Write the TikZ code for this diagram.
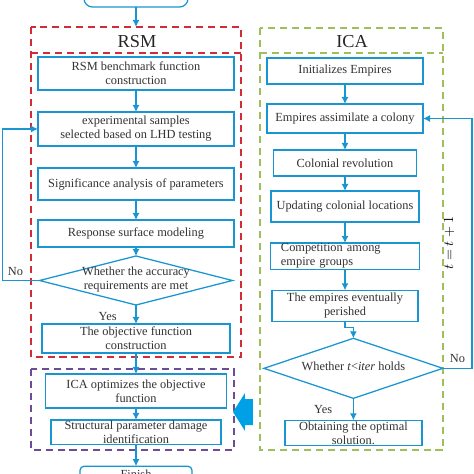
\documentclass[tikz,border=0pt]{standalone}
\usepackage{fontspec}
\setmainfont{Liberation Serif}
\usetikzlibrary{shapes.geometric, arrows.meta, positioning, calc}
\definecolor{flowBlue}{RGB}{25,150,210}
\definecolor{flowArrow}{RGB}{0,160,230}
\definecolor{rsmRed}{RGB}{210,45,55}
\definecolor{icaGreen}{RGB}{160,190,90}
\definecolor{optPurple}{RGB}{110,75,150}
\newcommand{\dtext}[1]{\raisebox{-2pt}[0pt][0pt]{\makebox[0pt]{\begin{tabular}{@{}c@{}}#1\end{tabular}}}}

\begin{document}
\begin{tikzpicture}[
    stage/.style={
        rectangle,
        draw=flowBlue,
        line width=0.9pt,
        fill=white,
        minimum width=#1,
        inner xsep=2pt,
        inner ysep=0.5pt,
        outer sep=0pt,
        align=center,
        font=\fontsize{8.8}{10}\selectfont,
        text=black!80
    },
    decide/.style={
        diamond,
        draw=flowBlue,
        line width=0.9pt,
        fill=white,
        aspect=4,
        inner sep=0pt,
        outer sep=0pt,
        minimum width=#1,
        font=\fontsize{8.8}{10}\selectfont,
        text=black!80
    },
    flow/.style={-{Latex[length=5pt,width=5pt]}, draw=flowBlue, line width=0.9pt},
    groupbox/.style={draw=#1, line width=1pt, dash pattern=on 5pt off 3.5pt},
    grouptitle/.style={font=\fontsize{13}{15}\selectfont, text=black!85},
    looptag/.style={font=\fontsize{8.8}{10}\selectfont, text=black!80}
]
    \useasboundingbox (0,0) rectangle (11.85,-11.85);

    % Group frames
    \draw[groupbox=rsmRed] (0.775,-0.675) rectangle (6.025,-8.925);
    \draw[groupbox=rsmRed] (0.775,-1.325) -- (6.025,-1.325);
    \node[grouptitle] (rsmtitle) at (3.425,-1.05) {RSM};
    \draw[groupbox=icaGreen] (6.5,-0.7) rectangle (11.075,-11.25);
    \draw[groupbox=icaGreen] (6.5,-1.325) -- (11.075,-1.325);
    \node[grouptitle] (icatitle) at (8.8,-1.05) {ICA};
    \draw[groupbox=optPurple] (0.775,-9.225) rectangle (5.85,-11.25);

    % Start
    \node[stage=2.6cm, rounded corners=6pt, minimum height=0.8cm, anchor=south] (start) at (3.4,-0.175) {};
    \coordinate (rsmtop) at (3.4,-0.675);

    % RSM column
    \node[stage=4.9cm, minimum height=0.825cm, anchor=north] (bench) at (3.4,-1.425) {RSM benchmark function\\construction};
    \node[stage=4.9cm, minimum height=0.85cm, below=0.55cm of bench] (lhd) {experimental samples\\selected based on LHD testing};
    \node[stage=4.9cm, minimum height=0.8cm, below=0.55cm of lhd] (sig) {Significance analysis of parameters};
    \node[stage=4.9cm, minimum height=0.675cm, below=0.5cm of sig] (rsmod) {Response surface modeling};
    \node[decide=4.825cm, minimum height=1.225cm, below=0.225cm of rsmod] (acc) {\dtext{Whether the accuracy\\requirements are met}};
    \node[stage=4.7cm, minimum height=0.725cm, below=0.475cm of acc] (objfun) {The objective function\\construction};

    % Optimisation and finish
    \node[stage=4.525cm, minimum height=0.85cm, below=0.525cm of objfun] (icaopt) {ICA optimizes the objective\\function};
    \node[stage=4.25cm, minimum height=0.6cm, below=0.3cm of icaopt] (damage) {Structural parameter damage\\identification};
    \node[stage=2.8cm, rounded corners=3pt, text height=8pt, text depth=12pt, below=0.55cm of damage] (finish) {Finish};

    % ICA column
    \node[stage=3.9cm, minimum height=0.65cm, anchor=north] (init) at (8.625,-1.45) {Initializes Empires};
    \node[stage=3.9cm, minimum height=0.725cm, below=0.5cm of init] (assim) {Empires assimilate a colony};
    \node[stage=3.575cm, minimum height=0.65cm, below=0.425cm of assim] (revol) {Colonial revolution};
    \node[stage=3.7cm, minimum height=0.775cm, below=0.375cm of revol] (update) {Updating colonial locations};
    \node[stage=3.725cm, minimum height=0.625cm, text width=3.2cm, align=left, below=0.525cm of update] (compete) {Competition among\\empire groups};
    \node[stage=3.65cm, minimum height=0.775cm, below=0.525cm of compete] (perish) {The empires eventually\\perished};
    \node[decide=4.475cm, minimum height=1.5cm, below=0.425cm of perish, xshift=0.21cm] (iter) {\dtext{Whether \textit{t}<\textit{iter} holds}};
    \node[stage=3.425cm, minimum height=0.625cm, below=0.55cm of iter] (optimal) {Obtaining the optimal\\solution.};

    % Big arrow
    \fill[flowArrow] (5.825,-10.3) -- (6.125,-9.825) -- (6.125,-9.975) -- (6.325,-9.975)
        -- (6.325,-10.625) -- (6.125,-10.625) -- (6.125,-10.775) -- cycle;

    % Connections
    \draw[flow] (start) -- (rsmtop);
    \foreach \a/\b in {bench/lhd, lhd/sig, sig/rsmod, rsmod/acc, objfun/icaopt, icaopt/damage, damage/finish} {
        \draw[flow] (\a) -- (\b);
    }
    \draw[flow] (acc) -- node[looptag, left=0.35cm, pos=0.6] {Yes} (objfun);
    \draw[flow] (acc.west) -- node[looptag, above, pos=0.65] {No} ++(-0.925,0) |- (lhd.west);

    \foreach \a/\b in {init/assim, assim/revol, revol/update, update/compete, compete/perish} {
        \draw[flow] (\a) -- (\b);
    }
    \draw[flow] (perish.south) -- ++(0,-0.15) -| (iter.north);
    \draw[flow] (iter) -- node[looptag, left=0.4cm, pos=0.5] {Yes} (optimal);
    \draw[flow] (iter.east) -- node[looptag, above, pos=0.5] {No} ++(0.725,0)
        |- node[pos=0.25, rotate=90, anchor=south, inner sep=0pt, inner ysep=12pt, font=\fontsize{10}{12}\selectfont] {$t=t+1$} (assim.east);

\end{tikzpicture}
\end{document}
